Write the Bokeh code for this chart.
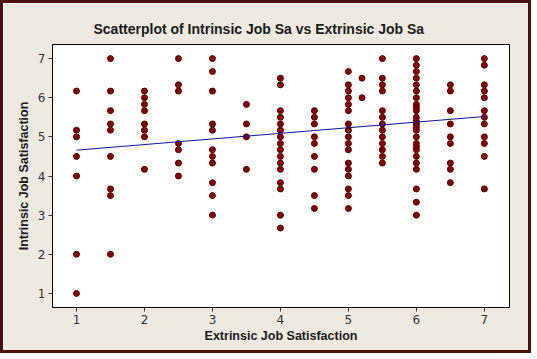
from bokeh.plotting import figure
from bokeh.models import Range1d, FixedTicker
from bokeh.embed import file_html
from bokeh.resources import INLINE

# Extrinsic Job Satisfaction levels (x) and the Intrinsic values (y) observed at each
x_levels = [1, 1.5, 2, 2.5, 3, 3.5, 4, 4.5, 5, 5.2, 5.5, 6, 6.5, 7]
y_at_1 = [6.17, 5.17, 5.0, 4.5, 4.0, 2.0, 1.0]
y_at_1_5 = [7.0, 6.17, 5.67, 5.33, 5.17, 4.5, 3.67, 3.5, 2.0]
y_at_2 = [6.17, 6.0, 5.83, 5.67, 5.33, 5.17, 5.0, 4.17]
y_at_2_5 = [7.0, 6.33, 6.17, 4.83, 4.67, 4.33, 4.0]
y_at_3 = [7.0, 6.67, 6.17, 5.33, 5.17, 4.67, 4.5, 4.33, 3.83, 3.5, 3.0]
y_at_3_5 = [5.83, 5.33, 5.0, 4.17]
y_at_4 = [6.5, 6.33, 5.67, 5.5, 5.33, 5.17, 5.0, 4.83, 4.67, 4.5, 4.33, 4.17,
          3.83, 3.67, 3.0, 2.67]
y_at_4_5 = [5.67, 5.5, 5.33, 5.0, 4.83, 4.5, 4.17, 3.5, 3.17]
y_at_5 = [6.67, 6.33, 6.17, 6.0, 5.83, 5.67, 5.33, 5.17, 5.0, 4.83, 4.67, 4.33,
          4.17, 4.0, 3.67, 3.5, 3.17]
y_at_5_2 = [6.5, 6.0]
y_at_5_5 = [7.0, 6.5, 6.33, 6.17, 5.67, 5.5, 5.33, 5.17, 5.0, 4.83, 4.67, 4.5, 4.33]
y_at_6 = [7.0, 6.83, 6.67, 6.5, 6.33, 6.17, 6.0, 5.83, 5.75, 5.67, 5.5, 5.4, 5.33,
          5.25, 5.17, 5.0, 4.83, 4.75, 4.67, 4.5, 4.33, 4.17, 3.67, 3.33, 3.0]
y_at_6_5 = [6.33, 6.17, 5.67, 5.33, 5.0, 4.83, 4.33, 4.17, 3.83]
y_at_7 = [7.0, 6.83, 6.33, 6.17, 6.0, 5.67, 5.5, 5.33, 5.0, 4.83, 4.5, 3.67]

y_groups = [y_at_1, y_at_1_5, y_at_2, y_at_2_5, y_at_3, y_at_3_5, y_at_4, y_at_4_5,
            y_at_5, y_at_5_2, y_at_5_5, y_at_6, y_at_6_5, y_at_7]

# fitted regression line
fit_x = [1, 7]
fit_y = [4.66, 5.52]

tick_values = [1, 2, 3, 4, 5, 6, 7]

title_text = "Scatterplot of Intrinsic Job Sa vs Extrinsic Job Sa"
x_label = "Extrinsic Job Satisfaction"
y_label = "Intrinsic Job Satisfaction"

ext = []
intr = []
for xv, ys in zip(x_levels, y_groups):
    for yv in ys:
        ext.append(xv)
        intr.append(yv)

FONT = "DejaVu Sans"
BG = "#EEEAE1"

p = figure(width=531, height=353,
           x_range=Range1d(0.647, 7.37), y_range=Range1d(0.64, 7.36),
           output_backend="svg", toolbar_location=None,
           min_border_left=49, min_border_right=25,
           min_border_top=41, min_border_bottom=49,
           background_fill_color="white", border_fill_color=BG,
           outline_line_color="black", outline_line_width=1)

p.title.text = title_text
p.title.align = "left"
p.title.offset = 41
p.title.text_font = "Liberation Sans"
p.title.text_font_size = "14px"
p.title.text_font_style = "bold"
p.title.text_color = "#1a1a1a"
p.title.standoff = 15

p.styles = {"border": "3px solid #4A0E0E"}

p.grid.visible = False

for ax in (p.xaxis[0], p.yaxis[0]):
    ax.ticker = FixedTicker(ticks=tick_values)
    ax.minor_tick_line_color = None
    ax.major_tick_in = 0
    ax.major_tick_out = 4
    ax.axis_line_color = None
    ax.major_tick_line_color = "#333333"
    ax.major_label_text_font = FONT
    ax.major_label_text_font_size = "12px"
    ax.major_label_text_color = "#333333"
    ax.axis_label_text_font = "Liberation Sans"
    ax.axis_label_text_font_size = "12.5px"
    ax.axis_label_text_font_style = "bold"
    ax.axis_label_text_color = "#1a1a1a"

p.xaxis.axis_label = x_label
p.yaxis.axis_label = y_label
p.xaxis.axis_label_standoff = 2
p.yaxis.axis_label_standoff = 4
p.xaxis.major_label_standoff = 3
p.yaxis.major_label_standoff = 3

p.scatter(ext, intr, size=6, marker="circle",
          fill_color="#800000", line_color="#5A0000", line_width=1)
p.line(fit_x, fit_y, line_color="#1010A0", line_width=1)

open("out.html", "w").write(file_html(p, INLINE))
